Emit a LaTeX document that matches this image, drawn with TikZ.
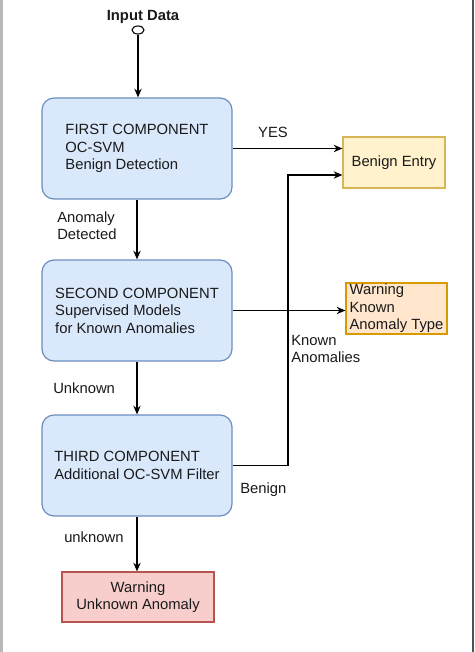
\documentclass[tikz,border=0pt]{standalone}
\usepackage{fontspec}
\setmainfont{Liberation Sans}
\usetikzlibrary{arrows.meta,shapes.geometric}
\definecolor{bluefill}{HTML}{DAE8FC}
\definecolor{bluedraw}{HTML}{6C8EBF}
\definecolor{yelfill}{HTML}{FFF2CC}
\definecolor{yeldraw}{HTML}{D6B656}
\definecolor{orfill}{HTML}{FFE6CC}
\definecolor{ordraw}{HTML}{D79B00}
\definecolor{redfill}{HTML}{F8CECC}
\definecolor{reddraw}{HTML}{B85450}
\definecolor{txt}{HTML}{1A1A1A}
\tikzset{
  comp/.style={draw=bluedraw, fill=bluefill, line width=0.9pt, rounded corners=9pt,
    minimum width=142.5pt, minimum height=75.75pt, align=left, inner sep=0pt, text=txt},
  outbox/.style={line width=0.9pt, inner sep=0pt, text=txt},
  lbl/.style={inner sep=0pt, text=txt, align=left},
  conn/.style={line width=1.3pt, -{Stealth[length=6.5pt,width=5.5pt]}},
}
\begin{document}
\begin{tikzpicture}[x=0.75pt,y=-0.75pt, font=\fontsize{11.1pt}{13.1pt}\selectfont]
\useasboundingbox (0,0) rectangle (474,652);
\fill[white] (0,0) rectangle (474,652);
\fill[black!28] (0,0) rectangle (3,652);
\fill[black!68] (471.5,0) rectangle (474,652);

\node[lbl, font=\fontsize{11.1pt}{13.1pt}\selectfont\bfseries] (title) at (143,17) {Input Data};
\node[draw, ellipse, line width=0.8pt, fill=white, minimum width=9pt, minimum height=6pt, inner sep=0pt] (in) at (138,30) {};

\node[comp] (b1) at (137,148.5) {FIRST COMPONENT\\OC-SVM\\Benign Detection};
\node[comp] (b2) at (137,310.5) {SECOND COMPONENT\\Supervised Models\\for Known Anomalies};
\node[comp] (b3) at (137,465.5) {THIRD COMPONENT\\Additional OC-SVM Filter};

\node[outbox, draw=yeldraw, fill=yelfill, minimum width=76.5pt, minimum height=38.25pt] (be) at (394,162.5) {Benign Entry};
\node[outbox, draw=ordraw, fill=orfill, minimum width=75.75pt, minimum height=38.25pt, align=left] (wk) at (396.5,308.5) {Warning\\Known\\Anomaly Type};
\node[outbox, draw=reddraw, fill=redfill, minimum width=114pt, minimum height=37.5pt, align=center] (wu) at (138,597) {Warning\\Unknown Anomaly};

\coordinate (bend) at (288,175);

\draw[conn] (in.south) -- (in.south |- b1.north);
\draw[conn] (b1.south) -- (b2.north);
\draw[conn] (b2.south) -- (b3.north);
\draw[conn] (b3.south) -- (b3.south |- wu.north);
\draw[conn] (b1.east) -- (b1.east -| be.west);
\draw[conn] (b2.east) -- (b2.east -| wk.west);
\draw[conn] (b3.east) -| (bend) -- (bend -| be.west);

\node[lbl] (yes) at (273,132) {YES};
\node[lbl, anchor=west] (anom) at (57,225.5) {Anomaly\\Detected};
\node[lbl, anchor=west] (unk) at (53,388) {Unknown};
\node[lbl, anchor=west] (unk2) at (64,537) {unknown};
\node[lbl, anchor=west] (ben) at (240,490) {Benign};
\node[lbl, anchor=west] (ka) at (291,349) {Known\\Anomalies};
\end{tikzpicture}
\end{document}
